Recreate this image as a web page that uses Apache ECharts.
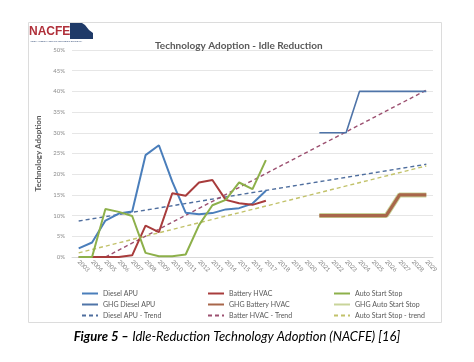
<!DOCTYPE html>
<html>
<head>
<meta charset="utf-8">
<script src="https://cdn.jsdelivr.net/npm/echarts@6/dist/echarts.min.js"></script>
<style>
html,body{margin:0;padding:0;background:#fff;}
#c{width:474px;height:362px;}
</style>
</head>
<body>
<div id="c"></div>
<script>
var years = ['2003','2004','2005','2006','2007','2008','2009','2010','2011','2012','2013','2014','2015','2016','2017','2018','2019','2020','2021','2022','2023','2024','2025','2026','2027','2028','2029'];
var yTicks = ['0%','5%','10%','15%','20%','25%','30%','35%','40%','45%','50%'];
var N = null;
var dieselApu     = [2.1,3.5,8.8,10.5,11.0,24.6,27.0,18.2,10.7,10.3,10.6,11.5,11.8,12.9,16.0,N,N,N,N,N,N,N,N,N,N,N,N];
var batteryHvac   = [0,0,0,0,0.4,7.6,6.0,15.4,14.8,18.0,18.6,13.8,13.0,12.6,13.6,N,N,N,N,N,N,N,N,N,N,N,N];
var autoStartStop = [0,0,11.6,10.9,9.9,1.0,0.2,0.2,0.6,7.7,12.5,13.8,18.0,16.4,23.4,N,N,N,N,N,N,N,N,N,N,N,N];
var ghgDieselApu     = [N,N,N,N,N,N,N,N,N,N,N,N,N,N,N,N,N,N,30,30,30,40,40,40,40,40,40];
var ghgBatteryHvac   = [N,N,N,N,N,N,N,N,N,N,N,N,N,N,N,N,N,N,10,10,10,10,10,10,15,15,15];
var ghgAutoStartStop = [N,N,N,N,N,N,N,N,N,N,N,N,N,N,N,N,N,N,10,10,10,10,10,10,15,15,15];
var dieselApuTrend   = [8.7,N,N,N,N,N,N,N,N,N,N,N,N,N,N,N,N,N,N,N,N,N,N,N,N,N,22.4];
var batteryHvacTrend = [N,N,0,N,N,N,N,N,N,N,N,N,N,N,N,N,N,N,N,N,N,N,N,N,N,N,40.3];
var autoStartTrend   = [1.0,N,N,N,N,N,N,N,N,N,N,N,N,N,N,N,N,N,N,N,N,N,N,N,N,N,22.0];

var FONT = 'Lato, "Liberation Sans", sans-serif';
function line(name, data, color, width, dashed, z) {
  return {
    name: name, type: 'line', data: data, symbol: 'none', showSymbol: false,
    connectNulls: dashed, z: z || 2,
    lineStyle: { color: color, width: width, type: dashed ? [4, 3] : 'solid' },
    itemStyle: { color: color },
    emphasis: { disabled: true }, animation: false
  };
}
var legendBase = {
  orient: 'vertical', itemWidth: 16, itemHeight: 7, itemGap: 4,
  itemStyle: { opacity: 0 },
  textStyle: { fontFamily: FONT, fontSize: 7, color: '#595959' },
  selectedMode: false
};
var chart = echarts.init(document.getElementById('c'), null, { renderer: 'canvas' });
chart.setOption({
  backgroundColor: '#fff',
  animation: false,
  title: {
    text: 'Technology Adoption - Idle Reduction', left: 150, top: 36,
    textStyle: { fontFamily: FONT, fontSize: 10, fontWeight: 'bold', color: '#595959' }
  },
  grid: { left: 72, right: 41, top: 50, bottom: 105 },
  legend: [
    Object.assign({}, legendBase, { left: 76, top: 285, data: ['Diesel APU','GHG Diesel APU','Diesel APU - Trend'] }),
    Object.assign({}, legendBase, { left: 202, top: 285, data: ['Battery HVAC','GHG Battery HVAC','Batter HVAC - Trend'] }),
    Object.assign({}, legendBase, { left: 328, top: 285, data: ['Auto Start Stop','GHG Auto Start Stop','Auto Start Stop - trend'] })
  ],
  xAxis: {
    type: 'category', data: years, boundaryGap: true,
    axisLine: { lineStyle: { color: '#d9d9d9' } },
    axisTick: { show: false },
    axisLabel: { rotate: -45, interval: 0, fontFamily: FONT, fontSize: 6, color: '#7f7f7f', margin: 4 }
  },
  yAxis: {
    type: 'value', min: 0, max: 50, interval: 5,
    name: 'Technology Adoption', nameLocation: 'middle', nameGap: 22,
    nameTextStyle: { fontFamily: FONT, fontSize: 8, fontWeight: 'bold', color: '#595959' },
    axisLine: { show: false }, axisTick: { show: false },
    splitLine: { lineStyle: { color: '#e6e6e6' } },
    axisLabel: { fontFamily: FONT, fontSize: 6, color: '#8c8c8c', margin: 7,
      formatter: function (v) { return yTicks[Math.round(v / 5)]; } }
  },
  series: [
    line('Diesel APU', dieselApu, '#4a7ebb', 2, false, 3),
    line('GHG Diesel APU', ghgDieselApu, '#4f74a8', 1.6, false, 3),
    line('Diesel APU - Trend', dieselApuTrend, '#4f6e9e', 1.4, true, 2),
    line('Battery HVAC', batteryHvac, '#a83c3c', 2, false, 3),
    line('GHG Battery HVAC', ghgBatteryHvac, '#a8664a', 3.2, false, 3),
    line('Batter HVAC - Trend', batteryHvacTrend, '#9c5070', 1.4, true, 2),
    line('Auto Start Stop', autoStartStop, '#8db04a', 2, false, 4),
    line('GHG Auto Start Stop', ghgAutoStartStop, '#c9d49a', 5, false, 2),
    line('Auto Start Stop - trend', autoStartTrend, '#c2c26a', 1.4, true, 2)
  ],
  graphic: [
    { type: 'rect', shape: { x: 28.5, y: 22.5, width: 413, height: 300 }, style: { fill: 'none', stroke: '#dcdcdc', lineWidth: 1 }, z: -1, silent: true },
    { type: 'text', left: 29, top: 26, style: { text: 'NACFE', fontFamily: '"Liberation Sans Narrow", "Liberation Sans", sans-serif', fontSize: 12, fontWeight: 'bold', fill: '#b0303a' }, silent: true },
    { type: 'polygon', shape: { points: [[70,23],[82,23],[85,25],[89,30],[93,33],[93,39],[70,39]] }, style: { fill: '#1f3a68' }, silent: true },
    { type: 'text', left: 30, top: 40, style: { text: 'NORTH AMERICAN COUNCIL FOR FREIGHT EFFICIENCY', fontFamily: FONT, fontSize: 2, fill: '#1f3a68' }, silent: true },
    { type: 'text', left: 'center', top: 330, style: {
        text: '{b|Figure 5 –} {i|Idle-Reduction Technology Adoption (NACFE) [16]}',
        rich: {
          b: { fontFamily: FONT, fontSize: 13, fontWeight: 'bold', fontStyle: 'italic', fill: '#000' },
          i: { fontFamily: FONT, fontSize: 13, fontStyle: 'italic', fill: '#000' }
        } }, silent: true }
  ]
});
</script>
</body>
</html>
